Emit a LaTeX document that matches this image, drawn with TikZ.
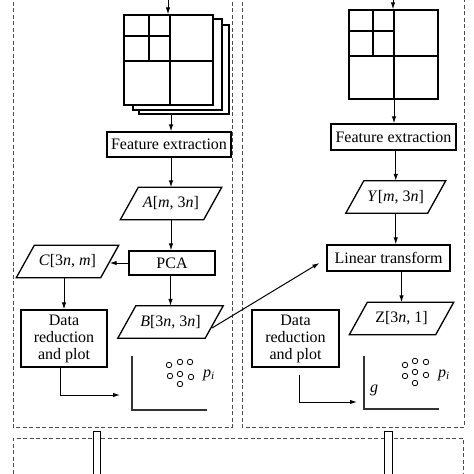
\documentclass[tikz,border=0pt]{standalone}
\usepackage{fontspec}
\setmainfont{Liberation Serif}
\usetikzlibrary{arrows.meta}
\newcommand\paral[5]{%
  \node[lbl, minimum width=#4pt, minimum height=32pt] (#1) at (#2,#3) {#5};
  \draw[line width=1.3pt] ([xshift=-9pt]#1.south west) -- ([xshift=-9pt]#1.south east) -- ([xshift=9pt]#1.north east) -- ([xshift=9pt]#1.north west) -- cycle;}
\begin{document}
\begin{tikzpicture}[x=1pt,y=-1pt,
  box/.style={draw, line width=1.3pt, inner sep=0pt, align=center, font=\fontsize{16}{17}\selectfont},
  lbl/.style={inner sep=0pt, font=\fontsize{16}{17}\selectfont},
  conn/.style={line width=1pt, -{Latex[length=7pt,width=4.5pt]}},
  panel/.style={draw=black!70, line width=1pt, dash pattern=on 4pt off 2.5pt},
  gridl/.style={line width=1.3pt},
  dot/.style={circle, draw, line width=0.8pt, minimum size=5.5pt, inner sep=0pt},
  axis/.style={line width=1.1pt, draw=black!80},
  pipe/.style={draw, fill=white, line width=1pt}]
\useasboundingbox (0,0) rectangle (474,474);

% panels
\draw[panel] (13,-5) -- (13,427) -- (232,427) -- (232,-5);
\draw[panel] (242,-5) -- (242,427) -- (464,427) -- (464,-5);
\draw[panel] (13,480) -- (13,438) -- (463,438) -- (463,480);
\draw[pipe] (93,480) -- (93,431) -- (100,431) -- (100,480);
\draw[pipe] (384,480) -- (384,431) -- (392,431) -- (392,480);

% ---------- left panel ----------
\draw[gridl, fill=white] (139,25) rectangle (229,114);
\draw[gridl, fill=white] (133,19) rectangle (222,110);
\node[box, fill=white, minimum width=89pt, minimum height=90pt] (gridL) at (168.5,60) {};
\draw[gridl] (170,15) -- (170,105) (124,61) -- (213,61) (149,15) -- (149,61) (124,36) -- (170,36);
\coordinate (inL) at (168,-2);
\draw[conn] (inL) -- (inL |- gridL.north);

\node[box, minimum width=124pt, minimum height=25pt] (feL) at (169,144.5) {Feature extraction};
\coordinate (shL) at (171,114);
\draw[conn] (shL) -- (shL |- feL.north);

\paral{A}{171}{203.5}{83}{\textit{A}[\textit{m}, 3\textit{n}]}
\draw[conn] (A.north |- feL.south) -- (A.north);

\node[box, minimum width=86pt, minimum height=24pt] (pca) at (172,263) {PCA};
\draw[conn] (A.south) -- (A.south |- pca.north);

\paral{C}{67.5}{261.5}{84}{\textit{C}[3\textit{n}, \textit{m}]}
\draw[conn] (pca.west) -- (pca.west -| C.east);

\paral{B}{170.5}{322}{87}{\textit{B}[3\textit{n}, 3\textit{n}]}
\draw[conn] (B.north |- pca.south) -- (B.north);

\node[box, minimum width=86pt, minimum height=57pt] (dataL) at (64,338.5) {Data\\reduction\\and plot};
\draw[conn] (dataL.north |- C.south) -- (dataL.north);

\coordinate (plL) at (120,395);
\draw[conn] ([xshift=-4pt]dataL.south) |- (plL);
\draw[axis] (132,356) -- (132,410) -- (207,410);
\foreach \i/\p in {1/{169,365},2/{180,362},3/{190,362},4/{170,376},5/{180,374},6/{191,377},7/{180,384}}
  \node[dot] (dl\i) at (\p) {};
\node[lbl] (piL) at (209,375) {\textit{p}\textsubscript{\textit{i}}};

% ---------- right panel ----------
\node[box, fill=white, minimum width=89pt, minimum height=89pt] (gridR) at (393.5,54.5) {};
\draw[gridl] (373,10) -- (373,56) (349,31) -- (394,31) (349,56) -- (438,56) (394,10) -- (394,99);
\coordinate (inR) at (393,-2);
\draw[conn] (inR) -- (inR |- gridR.north);

\node[box, minimum width=125pt, minimum height=26pt] (feR) at (393.5,137) {Feature extraction};
\coordinate (gR) at (394,99);
\draw[conn] (gR) -- (gR |- feR.north);

\paral{Y}{395.75}{197}{81.5}{\textit{Y}[\textit{m}, 3\textit{n}]}
\draw[conn] (Y.north |- feR.south) -- (Y.north);

\node[box, minimum width=123pt, minimum height=26pt] (lt) at (388.5,258) {Linear transform};
\draw[conn] (Y.south) -- (Y.south |- lt.north);

\paral{Z}{401.5}{318.5}{86}{Z[3\textit{n}, 1]}
\draw[conn] (Z.north |- lt.south) -- (Z.north);

\coordinate (bOut) at (212,328);
\draw[conn] (bOut) -- ([xshift=-7pt,yshift=-5pt]lt.west);

\node[box, minimum width=87pt, minimum height=57pt] (dataR) at (295.5,338.5) {Data\\reduction\\and plot};
\coordinate (plR) at (357,402);
\draw[conn] ([xshift=3.5pt,yshift=-7pt]dataR.south) |- (plR);
\draw[axis] (364,356) -- (364,409) -- (439,409);
\node[lbl] (g) at (374,390) {\textit{g}};
\foreach \i/\p in {1/{405,365},2/{415,361},3/{426,362},4/{405,376},5/{415,372},6/{426,375},7/{415,383}}
  \node[dot] (dr\i) at (\p) {};
\node[lbl] (piR) at (444,375) {\textit{p}\textsubscript{\textit{i}}};
\end{tikzpicture}
\end{document}
